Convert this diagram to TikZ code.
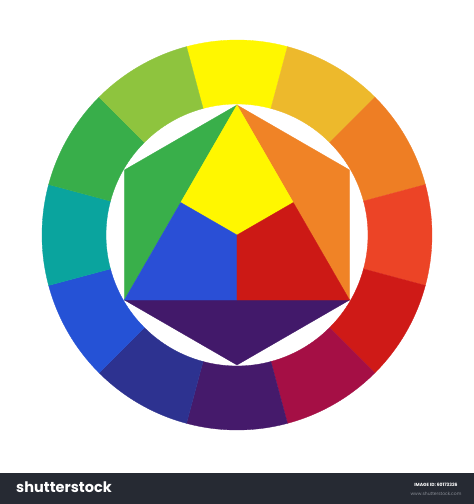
\documentclass[tikz,border=0pt]{standalone}
\usepackage{fontspec}
\newfontfamily\logofont{Poppins}
\usepackage{tikz}
\usetikzlibrary{calc}
\usepackage{xcolor}
% colori del cerchio
\definecolor{cGiallo}{HTML}{FFF700}
\definecolor{cGialloArancio}{HTML}{EDB92C}
\definecolor{cArancio}{HTML}{EE7E24}
\definecolor{cRossoArancio}{HTML}{EC4426}
\definecolor{cRosso}{HTML}{CF1A17}
\definecolor{cRossoViola}{HTML}{A50F45}
\definecolor{cViola}{HTML}{451A6B}
\definecolor{cBluViola}{HTML}{2D3290}
\definecolor{cBlu}{HTML}{2552D6}
\definecolor{cBluVerde}{HTML}{0AA49E}
\definecolor{cVerde}{HTML}{38AE4A}
\definecolor{cGialloVerde}{HTML}{8EC43E}
% colori della stella
\definecolor{sVerde}{HTML}{39AF4A}
\definecolor{sArancio}{HTML}{F08326}
\definecolor{sViola}{HTML}{42196A}
\definecolor{sBlu}{HTML}{2A4FD6}
\definecolor{sRosso}{HTML}{CC1915}
\definecolor{barra}{HTML}{262A33}
\definecolor{grigio}{HTML}{8A8E96}
\newcommand{\settore}[3]{
\filldraw[fill = #1, draw = #1, line width = 0.3pt] (#2:\rin) -- (#2:\rout) arc[start angle = #2, end angle = #3, radius = \rout] -- (#3:\rin) arc[start angle = #3, end angle = #2, radius = \rin] -- cycle;
}
\begin{document}
\begin{tikzpicture}[x = 1pt, y = 1pt]
    % Parametri
    \pgfmathsetmacro{\rout}{195}
    \pgfmathsetmacro{\rin}{131}
    \pgfmathsetmacro{\rh}{130}
    % Sfondo
    \useasboundingbox (-237,-269) rectangle (237,235);
    \fill[white] (-237,-269) rectangle (237,235);
    % Cerchio esterno
    \foreach \c [count = \i] in {cGiallo, cGialloArancio, cArancio, cRossoArancio, cRosso, cRossoViola, cViola, cBluViola, cBlu, cBluVerde, cVerde, cGialloVerde}{
        \pgfmathsetmacro{\a}{105 - 30*(\i - 1)}
        \pgfmathsetmacro{\b}{\a - 30}
        \settore{\c}{\a}{\b}
    }
    % Vertici dell'esagono
    \coordinate (O) at (0,0);
    \coordinate (A) at (90:\rh);
    \coordinate (B) at (30:\rh);
    \coordinate (C) at (-30:\rh);
    \coordinate (D) at (-90:\rh);
    \coordinate (E) at (-150:\rh);
    \coordinate (F) at (150:\rh);
    \coordinate (MS) at ($(A)!0.5!(E)$);
    \coordinate (MD) at ($(A)!0.5!(C)$);
    \coordinate (MB) at ($(E)!0.5!(C)$);
    % Triangoli esterni
    \filldraw[fill = sVerde, draw = sVerde, line width = 0.3pt] (A) -- (F) -- (E) -- cycle;
    \filldraw[fill = sArancio, draw = sArancio, line width = 0.3pt] (A) -- (B) -- (C) -- cycle;
    \filldraw[fill = sViola, draw = sViola, line width = 0.3pt] (E) -- (D) -- (C) -- cycle;
    % Triangolo centrale
    \filldraw[fill = cGiallo, draw = cGiallo, line width = 0.3pt] (A) -- (MS) -- (O) -- (MD) -- cycle;
    \filldraw[fill = sBlu, draw = sBlu, line width = 0.3pt] (MS) -- (E) -- (MB) -- (O) -- cycle;
    \filldraw[fill = sRosso, draw = sRosso, line width = 0.3pt] (MD) -- (O) -- (MB) -- (C) -- cycle;
    % Barra
    \fill[barra] (-237,-238) rectangle (237,-269);
    \node[white, font = \logofont\fontsize{14.5}{15}\selectfont\bfseries] (logo) at (-173,-252) {shutterstock};
    \node[white, font = \logofont\fontsize{4.5}{5}\selectfont\bfseries] (imgid) at (199,-250) {IMAGE ID: 60173326};
    \node[grigio, font = \logofont\fontsize{4.5}{5}\selectfont, below = -1.5pt] (sito) at (imgid.south) {www.shutterstock.com};
\end{tikzpicture}
\end{document}
